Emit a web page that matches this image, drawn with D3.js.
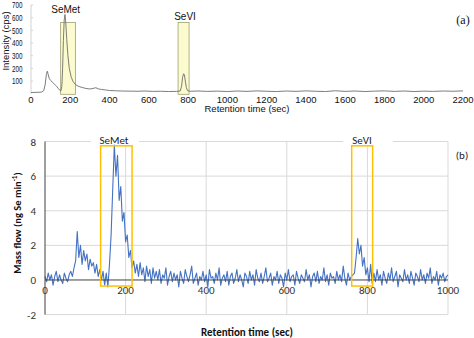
<!DOCTYPE html>
<html><head><meta charset="utf-8">
<script src="https://cdn.jsdelivr.net/npm/d3@7"></script>
<style>body{margin:0;background:#fff}svg{display:block}</style>
</head><body>
<svg id="c" width="474" height="338"></svg>
<script>
// ---- Panel (a): ICP-MS intensity ----
const aTimes = [0,20,40,55,65,72,78,83,88,93,100,110,120,130,140,148,153,157,161,165,169,173,177,182,188,195,205,215,225,240,260,280,300,315,330,345,360,380,400,430,460,500,540,580,620,660,700,740,760,767,772,777,781,786,791,797,810,850,900,950,1000,1050,1100,1150,1200,1250,1300,1350,1400,1450,1500,1550,1600,1650,1700,1750,1800,1850,1900,1950,2000,2050,2100,2150,2200];
const aValues = [10,11,12,14,25,70,150,178,150,120,105,90,75,60,40,25,25,60,200,420,580,625,560,430,300,200,130,95,75,60,50,42,38,42,48,38,34,30,26,24,22,21,20,22,19,20,18,19,22,60,130,158,150,100,50,25,20,22,19,21,18,22,19,23,20,18,22,19,23,20,18,24,19,22,18,21,23,19,22,18,21,19,22,20,23];
const aXTicks = [0,200,400,600,800,1000,1200,1400,1600,1800,2000,2200];
const aYTicks = [100,200,300,400,500,600,700];
const aBoxes = [{label:"SeMet", x0:151, x1:227, top:562}, {label:"SeVI", x0:749, x1:805, top:562}];

// ---- Panel (b): mass flow ----
const bStep = 4; // seconds between samples
const bValues = [
0.2,-0.1,0.4,0.0,0.3,-0.3,0.2,0.5,-0.1,0.3,0.0,-0.2,0.4,0.1,-0.1,0.3,0.5,
0.2,0.7,1.1,
2.8,
1.3,2.0,0.9,1.7,1.1,1.5,0.6,1.2,0.8,1.0,0.4,0.9,0.2,0.6,0.0,0.5,-0.3,0.4,-0.4,
0.9,2.6,5.2,7.8,6.0,7.2,4.6,5.4,3.4,3.9,2.2,2.6,1.3,1.7,0.7,1.1,0.4,0.9,0.2,1.0,0.3,0.7,-0.1,0.8,0.2,0.6,-0.2,0.7,0.1,0.5,
0.0,0.6,-0.2,0.3,0.1,0.7,-0.3,0.2,0.5,-0.1,
0.4,0.0,0.3,-0.4,0.5,0.1,-0.2,0.6,0.2,-0.1,
0.3,0.8,-0.2,0.1,0.4,-0.3,0.2,0.0,0.5,-0.1,
0.3,-0.4,0.6,0.1,0.2,-0.2,0.4,0.0,0.7,-0.3,
0.1,0.3,-0.1,0.5,-0.3,0.2,0.4,-0.2,0.1,0.6,
-0.1,0.3,0.0,-0.4,0.4,0.2,-0.2,0.5,0.0,0.3,
-0.3,0.6,0.1,-0.1,0.4,-0.2,0.2,0.7,-0.1,0.1,
0.4,-0.3,0.2,0.0,0.5,-0.2,0.3,0.1,-0.4,0.4,
0.0,0.6,-0.1,0.2,0.3,-0.3,0.5,0.1,-0.2,0.3,
0.1,-0.1,0.6,0.0,0.3,-0.4,0.2,0.4,-0.1,0.5,
-0.2,0.2,0.0,0.7,-0.1,0.3,-0.3,0.4,0.1,0.2,
-0.2,0.5,0.0,0.3,-0.1,0.8,0.1,-0.3,0.4,0.0,
0.2,0.3,
0.4,1.3,2.4,1.5,2.0,0.8,1.3,0.3,0.7,-0.1,0.9,-0.2,
0.4,-0.1,0.6,0.0,0.3,-0.3,0.5,0.1,-0.2,0.4,
0.0,0.7,-0.1,0.2,0.5,-0.4,0.3,0.1,-0.1,0.6,
0.0,0.3,-0.2,0.5,0.1,-0.3,0.4,0.2,-0.1,0.6,
0.0,0.3,-0.2,0.4,0.1,0.7,-0.2,0.2,0.0,0.5,
-0.3,0.3,0.1,0.4,-0.1,0.2,0.3];
const bXTicks = [0,200,400,600,800,1000];
const bYTicks = [-2,0,2,4,6,8];
const bBoxes = [{label:"SeMet", x0:138, x1:216, top:7.75, bottom:-0.35}, {label:"SeVI", x0:761, x1:813, top:7.75, bottom:-0.35}];

const svg = d3.select("#c");

// ===== Panel (a) =====
const ax = d3.scaleLinear().domain([0,2200]).range([31,463]);
const ay = d3.scaleLinear().domain([0,700]).range([93.8,5]);
const fa = "'Liberation Sans', Arial, sans-serif";

const ga = svg.append("g");
ga.append("line").attr("x1", ax(0)).attr("x2", ax(0)).attr("y1", ay(0)).attr("y2", ay(700))
  .attr("stroke","#c8c8c8").attr("stroke-width",0.8);
ga.selectAll("line.tk").data(aYTicks).enter().append("line")
  .attr("x1", ax(0)).attr("x2", ax(0)+2).attr("y1", d=>ay(d)).attr("y2", d=>ay(d))
  .attr("stroke","#c8c8c8").attr("stroke-width",0.8);

ga.selectAll("rect.box").data(aBoxes).enter().append("rect")
  .attr("x", d=>ax(d.x0)).attr("width", d=>ax(d.x1)-ax(d.x0))
  .attr("y", d=>ay(d.top)).attr("height", d=>ay(0)-ay(d.top)+0.5)
  .attr("fill", "#fbfbcf").attr("stroke", "#a0a070").attr("stroke-width", 0.8);

ga.append("path").datum(aTimes.map((t,i)=>[t,aValues[i]]))
  .attr("d", d3.line().x(d=>ax(d[0])).y(d=>ay(d[1])))
  .attr("fill","none").attr("stroke","#6e6e6e").attr("stroke-width",0.9);

ga.append("text").attr("x", 65.7).attr("y", 12.5).attr("text-anchor","middle")
  .attr("font-family", fa).attr("font-size", 10).attr("fill","#111").text("SeMet");
ga.append("text").attr("x", 185).attr("y", 20).attr("text-anchor","middle")
  .attr("font-family", fa).attr("font-size", 10).attr("fill","#111").text("SeVI");

ga.selectAll("text.yt").data(aYTicks).enter().append("text").attr("class","yt")
  .attr("x", 22.5).attr("y", d=>ay(d)+3.3).attr("text-anchor","end")
  .attr("font-family", fa).attr("font-size", 9.5).attr("fill","#111")
  .attr("textLength", 10.5).attr("lengthAdjust","spacingAndGlyphs").text(d=>d);
ga.selectAll("text.xt").data(aXTicks).enter().append("text").attr("class","xt")
  .attr("x", d=>ax(d)).attr("y", 102.5).attr("text-anchor","middle")
  .attr("font-family", fa).attr("font-size", 9.5).attr("fill","#111").text(d=>d);
ga.append("text").attr("x", 247).attr("y", 112).attr("text-anchor","middle")
  .attr("font-family", fa).attr("font-size", 9.5).attr("fill","#111").text("Retention time (sec)");
ga.append("text").attr("transform","translate(9,41) rotate(-90)").attr("text-anchor","middle")
  .attr("font-family", fa).attr("font-size", 9.5).attr("fill","#111").text("Intensity (cps)");
ga.append("text").attr("x", 463).attr("y", 24).attr("text-anchor","middle")
  .attr("font-family","'Liberation Serif', 'Times New Roman', serif").attr("font-size", 12).attr("fill","#111").text("(a)");

// ===== Panel (b) =====
const bx = d3.scaleLinear().domain([0,1000]).range([45,448]);
const by = d3.scaleLinear().domain([-2,8]).range([314.6,141.5]);
const fb = "Carlito, Lato, 'Open Sans', sans-serif";
const gb = svg.append("g");

// gridlines
gb.selectAll("line.hg").data(bYTicks.filter(v=>v!==0)).enter().append("line")
  .attr("x1", bx(0)).attr("x2", bx(1000)).attr("y1", d=>by(d)).attr("y2", d=>by(d))
  .attr("stroke","#d9d9d9").attr("stroke-width",1);
gb.selectAll("line.vg").data(bXTicks.filter(v=>v!==0)).enter().append("line")
  .attr("y1", by(-2)).attr("y2", by(8)).attr("x1", d=>bx(d)).attr("x2", d=>bx(d))
  .attr("stroke","#d9d9d9").attr("stroke-width",1);

// label backgrounds (white patches over top gridline)
const labelPos = [{label:"SeMet", x:115, w:48}, {label:"SeVI", x:368, w:50}];
gb.selectAll("rect.lbg").data(labelPos).enter().append("rect")
  .attr("x", d=>d.x-d.w/2).attr("width", d=>d.w).attr("y", by(8)-4).attr("height", 9).attr("fill","#fff");

// series
gb.append("path").datum(bValues.map((v,i)=>[i*bStep, v]))
  .attr("d", d3.line().x(d=>bx(d[0])).y(d=>by(d[1])))
  .attr("fill","none").attr("stroke","#4472c4").attr("stroke-width",1.1).attr("stroke-linejoin","round");

// axes
gb.append("line").attr("x1", bx(0)).attr("x2", bx(1000)).attr("y1", by(0)).attr("y2", by(0))
  .attr("stroke","#404040").attr("stroke-width",1);
gb.append("line").attr("x1", bx(0)).attr("x2", bx(0)).attr("y1", by(-2)).attr("y2", by(8))
  .attr("stroke","#404040").attr("stroke-width",1);

// boxes
gb.selectAll("rect.box").data(bBoxes).enter().append("rect")
  .attr("x", d=>bx(d.x0)).attr("width", d=>bx(d.x1)-bx(d.x0))
  .attr("y", d=>by(d.top)).attr("height", d=>by(d.bottom)-by(d.top))
  .attr("fill","none").attr("stroke","#ffc000").attr("stroke-width",1.5);

gb.append("text").attr("x", 114).attr("y", 144).attr("text-anchor","middle")
  .attr("font-family", fb).attr("font-size", 11).attr("fill","#222").text("SeMet");
gb.append("text").attr("x", 362).attr("y", 144).attr("text-anchor","middle")
  .attr("font-family", fb).attr("font-size", 11).attr("fill","#222").text("SeVI");

gb.selectAll("text.yt").data(bYTicks).enter().append("text")
  .attr("x", 36).attr("y", d=>by(d)+4).attr("text-anchor","end")
  .attr("font-family", fb).attr("font-size", 11).attr("fill","#333").text(d=>d);
gb.selectAll("text.xt").data(bXTicks).enter().append("text")
  .attr("x", d=>bx(d)).attr("y", 294).attr("text-anchor","middle")
  .attr("font-family", fb).attr("font-size", 11).attr("fill","#333").text(d=>d);

gb.append("text").attr("x", 247).attr("y", 336).attr("text-anchor","middle")
  .attr("font-family", fb).attr("font-size", 11).attr("font-weight","bold").attr("fill","#111").text("Retention time (sec)");
const yt = gb.append("text").attr("transform","translate(21,223) rotate(-90)").attr("text-anchor","middle")
  .attr("font-family", fb).attr("font-size", 10.5).attr("font-weight","bold").attr("fill","#111");
yt.append("tspan").text("Mass flow (ng Se min");
yt.append("tspan").attr("dy",-4).attr("font-size",7).text("-1");
yt.append("tspan").attr("dy",4).text(")");

gb.append("text").attr("x", 462).attr("y", 159).attr("text-anchor","middle")
  .attr("font-family", fb).attr("font-size", 11).attr("fill","#222").text("(b)");
</script>
</body></html>
